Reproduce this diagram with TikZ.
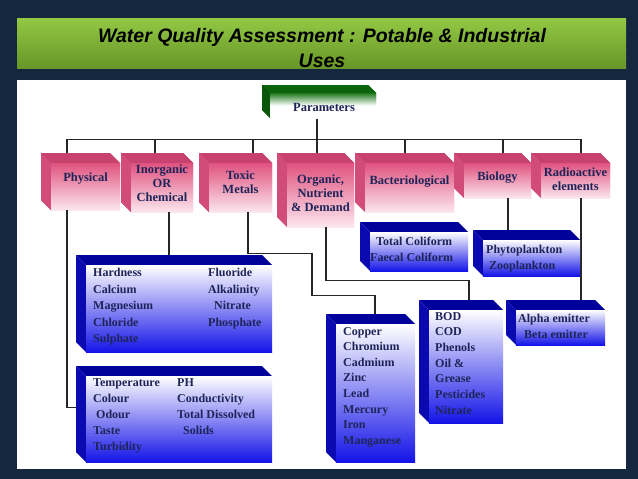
\documentclass[tikz,border=0pt]{standalone}
\usepackage{fontspec}
\setmainfont{Liberation Serif}
\newfontfamily\titlefont{Liberation Sans}
\usetikzlibrary{fit}
\definecolor{navybg}{HTML}{14273F}
\definecolor{txt}{HTML}{1E2458}
\definecolor{pinkA}{HTML}{E0527F}
\definecolor{pinkB}{HTML}{FCE6EE}
\definecolor{pinkTop}{HTML}{C7426F}
\definecolor{pinkSide}{HTML}{D24C7A}
\definecolor{blueA}{HTML}{1414E8}
\definecolor{blueTop}{HTML}{00009A}
\definecolor{blueSide}{HTML}{0A0AB0}
\definecolor{grA}{HTML}{1E7A1E}
\definecolor{grTop}{HTML}{0B640B}
\definecolor{barA}{HTML}{92C844}
\definecolor{barB}{HTML}{689628}
\tikzset{
  pinkfront/.style={top color=pinkA,bottom color=pinkB},
  pinktop/.style={fill=pinkTop}, pinkside/.style={fill=pinkSide},
  bluefront/.style={top color=white,bottom color=blueA},
  bluetop/.style={fill=blueTop}, blueside/.style={fill=blueSide},
  greenfront/.style={top color=grA,bottom color=white,middle color=white},
  greentop/.style={fill=grTop}, greenside/.style={fill=grTop!85!black},
  conn/.style={draw=black!85,line width=1.3pt},
  lab/.style={font=\bfseries\fontsize{12.5}{14}\selectfont,text=txt,align=center,inner sep=0pt},
  lst/.style={font=\bfseries\fontsize{12}{#1}\selectfont,text=txt,align=left,anchor=north west,inner sep=0pt},
}
\newcommand\boxthree[7]{%
  \fill[#7top] (#2,#3) -- ({#4-#6},#3) -- (#4,{#3+#6}) -- ({#2+#6},{#3+#6}) -- cycle;
  \fill[#7side] (#2,#3) -- ({#2+#6},{#3+#6}) -- ({#2+#6},#5) -- (#2,{#5-#6}) -- cycle;
  \shade[#7front] ({#2+#6},{#3+#6}) rectangle (#4,#5);
  \node[fit={({#2+#6},{#3+#6}) (#4,#5)},inner sep=0pt] (#1) {};
}
\begin{document}
\begin{tikzpicture}[x=1pt,y=-1pt]
\fill[navybg] (0,0) rectangle (638,479);
\useasboundingbox (0,0) rectangle (638,479);
\shade[top color=barA,bottom color=barB] (17,18) rectangle (626,68);
\node[font=\titlefont\bfseries\itshape\fontsize{19.5}{25}\selectfont,align=center] (title) at (322,48) {Water Quality Assessment : Potable \& Industrial\\Uses};
\fill[white] (17,80) rectangle (626,469);
% connectors from parameters
\boxthree{par}{262}{85}{376}{118}{8}{green}
\boxthree{phys}{41}{153}{120}{210}{10}{pink}
\boxthree{inorg}{121}{153}{193}{212}{10}{pink}
\boxthree{toxic}{199}{153}{272}{212}{10}{pink}
\boxthree{org}{277}{153}{354}{227}{10}{pink}
\boxthree{bact}{355}{153}{454}{212}{10}{pink}
\boxthree{bio}{454}{153}{531}{198}{10}{pink}
\boxthree{rad}{531}{153}{610}{198}{10}{pink}
\draw[conn] ([xshift=-6pt]par.south) -- ++(0,21) -| ([xshift=-18.5pt]phys.north);
\draw[conn] ([xshift=-6pt]par.south) -- ++(0,21) -| ([xshift=-7pt]inorg.north);
\draw[conn] ([xshift=-6pt]par.south) -- ++(0,21) -| ([xshift=12.5pt]toxic.north);
\draw[conn] ([xshift=-6pt]par.south) -- ([xshift=-3.5pt]org.north);
\draw[conn] ([xshift=-6pt]par.south) -- ++(0,21) -| ([xshift=-4.5pt]bact.north);
\draw[conn] ([xshift=-6pt]par.south) -- ++(0,21) -| ([xshift=5.5pt]bio.north);
\draw[conn] ([xshift=-6pt]par.south) -- ++(0,21) -| ([xshift=5.5pt]rad.north);
% redraw boxes over the drops
\boxthree{phys}{41}{153}{120}{210}{10}{pink}
\boxthree{inorg}{121}{153}{193}{212}{10}{pink}
\boxthree{toxic}{199}{153}{272}{212}{10}{pink}
\boxthree{org}{277}{153}{354}{227}{10}{pink}
\boxthree{bact}{355}{153}{454}{212}{10}{pink}
\boxthree{bio}{454}{153}{531}{198}{10}{pink}
\boxthree{rad}{531}{153}{610}{198}{10}{pink}
\boxthree{par}{262}{85}{376}{118}{8}{green}
\node[lab] (partxt) at ([xshift=1pt,yshift=-2pt]par.center) {Parameters};
\node[lab] (physt) at ([yshift=8pt]phys.center) {Physical};
\node[lab] (inorgt) at ([yshift=4pt]inorg.center) {Inorganic\\OR\\Chemical};
\node[lab] (toxict) at ([yshift=5pt]toxic.center) {Toxic\\Metals};
\node[lab] (orgt) at ([yshift=2pt]org.center) {Organic,\\Nutrient\\\& Demand};
\node[lab] (bactt) at ([yshift=6pt]bact.center) {Bacteriological};
\node[lab] (biot) at ([yshift=3pt]bio.center) {Biology};
\node[lab] (radt) at ([yshift=1pt]rad.center) {Radioactive\\elements};
% lower connectors (under blue boxes)
\draw[conn] ([xshift=-18.5pt]phys.south) coordinate (p1) -- ++(0,197) -- ++(12,0) coordinate (p2);
\draw[conn] ([xshift=7pt]inorg.south) coordinate (i1) -- ++(0,48) coordinate (i2);
\draw[conn] ([xshift=7.5pt]toxic.south) coordinate (t1) -- ++(0,41) -- ++(64,0) -- ++(0,42) -- ++(63,0) -- ++(0,25) coordinate (t2);
\draw[conn] ([xshift=5.5pt]org.south) coordinate (o1) -- ++(0,53) -- ++(143,0) -- ++(0,25) coordinate (o2);
\draw[conn] ([xshift=10.5pt]bio.south) coordinate (b1) -- ++(0,36) coordinate (b2);
\draw[conn] ([xshift=5.5pt]rad.south) coordinate (r1) -- ++(0,110) coordinate (r2);
% blue boxes
\boxthree{tc}{360}{222}{468}{271}{10}{blue}
\boxthree{phy}{473}{230}{580}{276}{10}{blue}
\boxthree{hard}{76}{255}{272}{352}{10}{blue}
\boxthree{temp}{76}{366}{272}{462}{10}{blue}
\boxthree{cop}{326}{314}{415}{462}{10}{blue}
\boxthree{bod}{419}{300}{503}{423}{10}{blue}
\boxthree{alp}{506}{300}{605}{345}{10}{blue}
\node[lst=16.5pt] (h1) at (93,268) {Hardness\\Calcium\\Magnesium\\Chloride\\Sulphate};
\node[lst=16.5pt] (h2) at (208,268) {Fluoride\\Alkalinity\\\ \ Nitrate\\Phosphate};
\node[lst=16.2pt] (m1) at (93,378) {Temperature\\Colour\\\ Odour\\Taste\\Turbidity};
\node[lst=16.2pt] (m2) at (177,378) {PH\\Conductivity\\Total Dissolved\\\ \ Solids};
\node[lst=15.6pt] (c1) at (343,327) {Copper\\Chromium\\Cadmium\\Zinc\\Lead\\Mercury\\Iron\\Manganese};
\node[lst=15.7pt] (d1) at (435,312) {BOD\\COD\\Phenols\\Oil \&\\Grease\\Pesticides\\Nitrate};
\node[lst=16pt] (a1) at (518,314) {Alpha emitter\\\ \ Beta emitter};
\node[lst=16pt] (tc1) at (370,237) {\ \ Total Coliform\\Faecal Coliform};
\node[lst=16pt] (ph1) at (486,245) {Phytoplankton\\\ Zooplankton};
\end{tikzpicture}
\end{document}
